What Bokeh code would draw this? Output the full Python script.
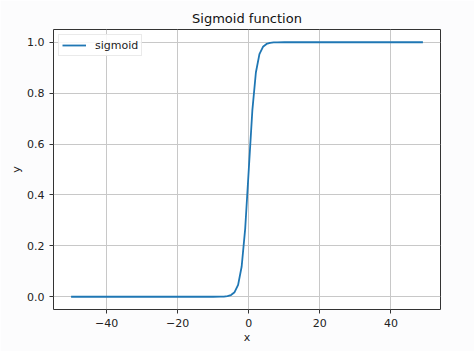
from bokeh.plotting import figure
from bokeh.models import Range1d, FixedTicker, Legend, LegendItem
from bokeh.embed import file_html
from bokeh.resources import INLINE

x_vals = [-50, -12, -10, -8, -7, -6, -5, -4, -3, -2, -1, 0, 1, 2, 3, 4, 5, 6, 7, 8, 10, 12, 49]
y_vals = [0.0, 0.00001, 0.00005, 0.0003, 0.0009, 0.0025, 0.0067, 0.018, 0.047, 0.119, 0.269, 0.5,
          0.731, 0.881, 0.953, 0.982, 0.9933, 0.9975, 0.9991, 0.9997, 0.99995, 0.99999, 1.0]
x_ticks = [-40, -20, 0, 20, 40]
x_tick_labels = ["\u221240", "\u221220", "0", "20", "40"]
y_ticks = [0.0, 0.2, 0.4, 0.6, 0.8, 1.0]
y_tick_labels = ["0.0", "0.2", "0.4", "0.6", "0.8", "1.0"]
series_name = "sigmoid"

FONT = "DejaVu Sans"

p = figure(width=474, height=351, output_backend="svg", toolbar_location=None,
           x_range=Range1d(-54.95, 53.95), y_range=Range1d(-0.05, 1.05),
           min_border_left=53, min_border_right=34, min_border_top=29, min_border_bottom=42)
p.border_fill_color = "#fcfcfd"
p.background_fill_color = "white"
p.outline_line_color = "#333333"
p.outline_line_width = 1

p.title.text = "Sigmoid function"
p.title.align = "center"
p.title.text_font = FONT
p.title.text_font_style = "normal"
p.title.text_font_size = "13px"
p.title.text_color = "#111111"
p.title.standoff = 7

r = p.line(x_vals, y_vals, line_color="#1f77b4", line_width=1.8)

for ax, ticks, labels in ((p.xaxis[0], x_ticks, x_tick_labels), (p.yaxis[0], y_ticks, y_tick_labels)):
    ax.ticker = FixedTicker(ticks=ticks)
    ax.major_label_overrides = {t: l for t, l in zip(ticks, labels)}
    ax.axis_line_color = None
    ax.major_tick_line_color = "#333333"
    ax.major_tick_out = 4
    ax.major_tick_in = 0
    ax.minor_tick_line_color = None
    ax.major_label_text_font = FONT
    ax.major_label_text_font_size = "11px"
    ax.major_label_text_color = "#222222"
    ax.axis_label_text_font = FONT
    ax.axis_label_text_font_size = "11px"
    ax.axis_label_text_font_style = "normal"
    ax.axis_label_text_color = "#222222"

p.xaxis.axis_label = "x"
p.yaxis.axis_label = "y"
p.xaxis.axis_label_standoff = 1
p.yaxis.axis_label_standoff = 1

p.xgrid.ticker = FixedTicker(ticks=x_ticks)
p.ygrid.ticker = FixedTicker(ticks=y_ticks)
p.grid.grid_line_color = "#c8c8c8"
p.grid.grid_line_width = 1

legend = Legend(items=[LegendItem(label=series_name, renderers=[r])], location="top_left")
legend.label_text_font = FONT
legend.label_text_font_size = "11px"
legend.label_text_color = "#222222"
legend.padding = 3
legend.margin = 5
legend.spacing = 0
legend.glyph_width = 24
legend.glyph_height = 14
legend.label_height = 14
legend.label_standoff = 9
legend.border_line_color = "#d6d6d6"
legend.background_fill_alpha = 0.85
p.add_layout(legend)

open("out.html", "w").write(file_html(p, INLINE))
